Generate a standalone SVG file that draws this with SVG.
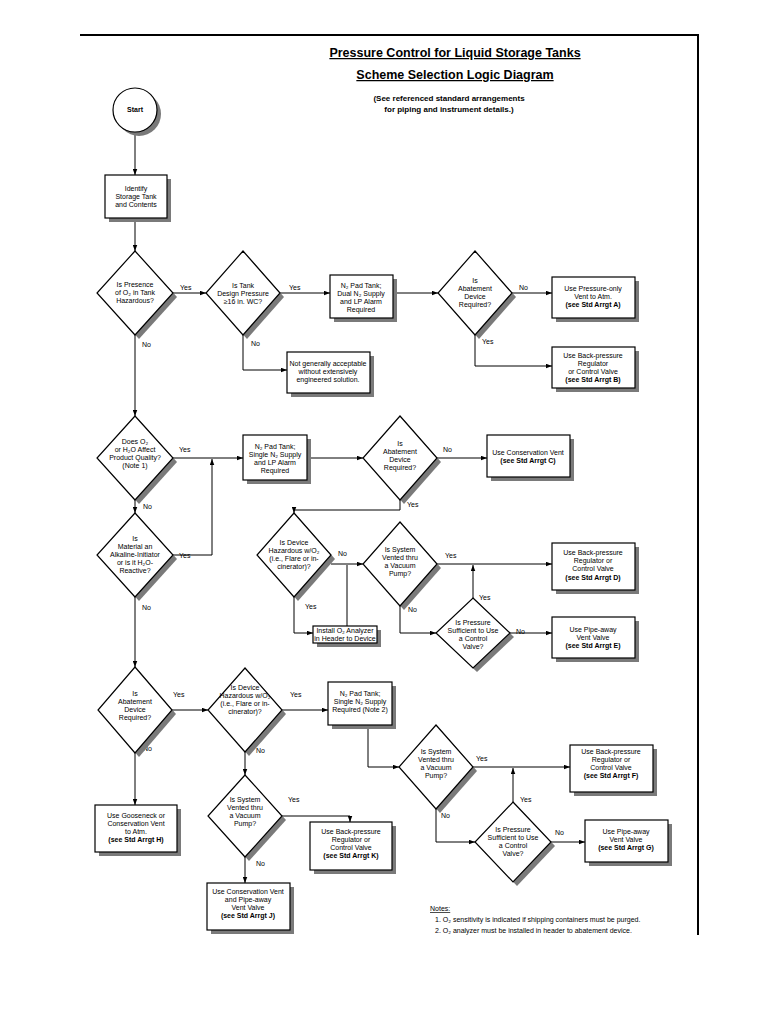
<svg xmlns="http://www.w3.org/2000/svg" width="768" height="1024" viewBox="0 0 768 1024">
<style>
.b{fill:#fff;stroke:#000;stroke-width:1.2}
.s{fill:#7a7a7a}
text{font-family:"Liberation Sans",Arial,sans-serif;font-size:7px;fill:#000}
.t{text-anchor:middle}
.bd{font-weight:bold}
.h{font-size:12.5px;font-weight:bold;text-decoration:underline}
.c{fill:none;stroke:#000;stroke-width:1}
</style>
<defs><marker id="a" viewBox="0 0 8 6" refX="8" refY="3" markerWidth="6" markerHeight="5" orient="auto"><path d="M0,0L8,3L0,6z" fill="#000"/></marker></defs>
<rect width="768" height="1024" fill="#fff"/>
<path d="M80,35H698V935" fill="none" stroke="#000" stroke-width="2"/>
<g id="title">
<text class="t h" x="455" y="57">Pressure Control for Liquid Storage Tanks</text>
<text class="t h" x="455" y="79">Scheme Selection Logic Diagram</text>
<text class="t bd" x="449" y="101" style="font-size:8px">(See referenced standard arrangements</text>
<text class="t bd" x="449" y="112" style="font-size:8px">for piping and instrument details.)</text>
</g>
<g id="connectors" class="c">
<path d="M135,132V175" marker-end="url(#a)"/>
<path d="M135,218V251" marker-end="url(#a)"/>
<path d="M173,293H206" marker-end="url(#a)"/>
<path d="M280,293H330" marker-end="url(#a)"/>
<path d="M393,293H438" marker-end="url(#a)"/>
<path d="M512,293H552" marker-end="url(#a)"/>
<path d="M475,335V366H552" marker-end="url(#a)"/>
<path d="M243,335V370H287" marker-end="url(#a)"/>
<path d="M135,335V416" marker-end="url(#a)"/>
<path d="M173,458H243" marker-end="url(#a)"/>
<path d="M173,555H212V459" marker-end="url(#a)"/>
<path d="M135,500V513" marker-end="url(#a)"/>
<path d="M307,458H363" marker-end="url(#a)"/>
<path d="M437,458H487" marker-end="url(#a)"/>
<path d="M400,500V510H294V513" marker-end="url(#a)"/>
<path d="M331,564H363" marker-end="url(#a)"/>
<path d="M347,626V565"/>
<path d="M294,597V633H313" marker-end="url(#a)"/>
<path d="M437,564H552" marker-end="url(#a)"/>
<path d="M473,598V565" marker-end="url(#a)"/>
<path d="M400,606V633H436" marker-end="url(#a)"/>
<path d="M510,633H552" marker-end="url(#a)"/>
<path d="M135,597V667" marker-end="url(#a)"/>
<path d="M172,710H208" marker-end="url(#a)"/>
<path d="M282,710H328" marker-end="url(#a)"/>
<path d="M135,752V805" marker-end="url(#a)"/>
<path d="M245,752V775" marker-end="url(#a)"/>
<path d="M282,816H350V822" marker-end="url(#a)"/>
<path d="M245,857V883" marker-end="url(#a)"/>
<path d="M368,725V767H399" marker-end="url(#a)"/>
<path d="M473,767H570" marker-end="url(#a)"/>
<path d="M436,809V842H475" marker-end="url(#a)"/>
<path d="M513,802V768" marker-end="url(#a)"/>
<path d="M551,842H585" marker-end="url(#a)"/>
</g>
<g id="labels">
<text x="180" y="290">Yes</text><text x="289" y="290">Yes</text><text x="519" y="290">No</text>
<text x="482" y="344">Yes</text><text x="251" y="346">No</text><text x="142" y="347">No</text>
<text x="179" y="452">Yes</text><text x="443" y="452">No</text><text x="407" y="507">Yes</text>
<text x="143" y="509">No</text><text x="179" y="558">Yes</text>
<text x="338" y="556">No</text><text x="445" y="558">Yes</text><text x="305" y="609">Yes</text>
<text x="408" y="612">No</text><text x="479" y="600">Yes</text><text x="516" y="634">No</text>
<text x="142" y="610">No</text>
<text x="173" y="697">Yes</text><text x="290" y="697">Yes</text><text x="143" y="751">No</text>
<text x="256" y="753">No</text><text x="288" y="802">Yes</text><text x="256" y="866">No</text>
<text x="476" y="761">Yes</text><text x="520" y="802">Yes</text><text x="441" y="818">No</text><text x="555" y="835">No</text>
</g>
<g id="start"><circle class="s" cx="139" cy="114" r="22"/><circle class="b" cx="135" cy="110" r="22"/><text class="t bd" x="135" y="112">Start</text></g>
<g id="identify"><rect class="s" x="109" y="179" width="62" height="43"/><rect class="b" x="105" y="175" width="62" height="43"/>
<text class="t" x="136" y="191">Identify</text><text class="t" x="136" y="199">Storage Tank</text><text class="t" x="136" y="207">and Contents</text></g>
<g id="d1"><polygon class="s" points="139,255 177,297 139,339 101,297"/><polygon class="b" points="135,251 173,293 135,335 97,293"/>
<text class="t" x="135" y="287">Is Presence</text><text class="t" x="135" y="295">of O₂ in Tank</text><text class="t" x="135" y="303">Hazardous?</text></g>
<g id="d2"><polygon class="s" points="247,255 284,297 247,339 210,297"/><polygon class="b" points="243,251 280,293 243,335 206,293"/>
<text class="t" x="243" y="288">Is Tank</text><text class="t" x="243" y="296">Design Pressure</text><text class="t" x="243" y="304">≥16 in. WC?</text></g>
<g id="n2dual"><rect class="s" x="334" y="279" width="63" height="43"/><rect class="b" x="330" y="275" width="63" height="43"/>
<text class="t" x="361" y="288">N₂ Pad Tank;</text><text class="t" x="361" y="296">Dual N₂ Supply</text><text class="t" x="361" y="304">and LP Alarm</text><text class="t" x="361" y="312">Required</text></g>
<g id="d3"><polygon class="s" points="479,255 516,297 479,339 442,297"/><polygon class="b" points="475,251 512,293 475,335 438,293"/>
<text class="t" x="475" y="283">Is</text><text class="t" x="475" y="291">Abatement</text><text class="t" x="475" y="299">Device</text><text class="t" x="475" y="307">Required?</text></g>
<g id="boxA"><rect class="s" x="556" y="281" width="83" height="41"/><rect class="b" x="552" y="277" width="83" height="41"/>
<text class="t" x="593" y="291">Use Pressure-only</text><text class="t" x="593" y="299">Vent to Atm.</text><text class="t bd" x="593" y="307">(see Std Arrgt A)</text></g>
<g id="boxB"><rect class="s" x="556" y="351" width="83" height="41"/><rect class="b" x="552" y="347" width="83" height="41"/>
<text class="t" x="593" y="358">Use  Back-pressure</text><text class="t" x="593" y="366">Regulator</text><text class="t" x="593" y="374">or Control Valve</text><text class="t bd" x="593" y="382">(see Std Arrgt B)</text></g>
<g id="notgen"><rect class="s" x="291" y="356" width="83" height="41"/><rect class="b" x="287" y="352" width="83" height="41"/>
<text class="t" x="328" y="366">Not generally acceptable</text><text class="t" x="328" y="374">without extensively</text><text class="t" x="328" y="382">engineered solution.</text></g>
<g id="d4"><polygon class="s" points="139,420 177,462 139,504 101,462"/><polygon class="b" points="135,416 173,458 135,500 97,458"/>
<text class="t" x="135" y="444">Does O₂</text><text class="t" x="135" y="452">or H₂O Affect</text><text class="t" x="135" y="460">Product Quality?</text><text class="t" x="135" y="468">(Note 1)</text></g>
<g id="d5"><polygon class="s" points="139,517 177,559 139,601 101,559"/><polygon class="b" points="135,513 173,555 135,597 97,555"/>
<text class="t" x="135" y="541">Is</text><text class="t" x="135" y="549">Material an</text><text class="t" x="135" y="557">Alkaline-Initiator</text><text class="t" x="135" y="565">or is it H₂O-</text><text class="t" x="135" y="573">Reactive?</text></g>
<g id="n2single"><rect class="s" x="247" y="439" width="64" height="45"/><rect class="b" x="243" y="435" width="64" height="45"/>
<text class="t" x="275" y="449">N₂ Pad Tank;</text><text class="t" x="275" y="457">Single N₂ Supply</text><text class="t" x="275" y="465">and LP Alarm</text><text class="t" x="275" y="473">Required</text></g>
<g id="d6"><polygon class="s" points="404,420 441,462 404,504 367,462"/><polygon class="b" points="400,416 437,458 400,500 363,458"/>
<text class="t" x="400" y="446">Is</text><text class="t" x="400" y="454">Abatement</text><text class="t" x="400" y="462">Device</text><text class="t" x="400" y="470">Required?</text></g>
<g id="boxC"><rect class="s" x="491" y="439" width="83" height="42"/><rect class="b" x="487" y="435" width="83" height="42"/>
<text class="t" x="528" y="455">Use Conservation Vent</text><text class="t bd" x="528" y="463">(see Std Arrgt C)</text></g>
<g id="d7"><polygon class="s" points="298,517 335,559 298,601 261,559"/><polygon class="b" points="294,513 331,555 294,597 257,555"/>
<text class="t" x="294" y="545">Is Device</text><text class="t" x="294" y="553">Hazardous w/O₂</text><text class="t" x="294" y="561">(i.e., Flare or in-</text><text class="t" x="294" y="569">cinerator)?</text></g>
<g id="install"><rect class="s" x="317" y="630" width="64" height="17"/><rect class="b" x="313" y="626" width="64" height="17"/>
<text class="t" x="345" y="633">Install O₂ Analyzer</text><text class="t" x="345" y="641">in Header to Device</text></g>
<g id="d8"><polygon class="s" points="404,526 441,568 404,610 367,568"/><polygon class="b" points="400,522 437,564 400,606 363,564"/>
<text class="t" x="400" y="552">Is System</text><text class="t" x="400" y="560">Vented thru</text><text class="t" x="400" y="568">a Vacuum</text><text class="t" x="400" y="576">Pump?</text></g>
<g id="boxD"><rect class="s" x="556" y="547" width="83" height="47"/><rect class="b" x="552" y="543" width="83" height="47"/>
<text class="t" x="593" y="555">Use Back-pressure</text><text class="t" x="593" y="563">Regulator or</text><text class="t" x="593" y="571">Control Valve</text><text class="t bd" x="593" y="580">(see Std Arrgt D)</text></g>
<g id="d9"><polygon class="s" points="477,602 514,637 477,672 440,637"/><polygon class="b" points="473,598 510,633 473,668 436,633"/>
<text class="t" x="473" y="625">Is Pressure</text><text class="t" x="473" y="633">Sufficient to Use</text><text class="t" x="473" y="641">a Control</text><text class="t" x="473" y="649">Valve?</text></g>
<g id="boxE"><rect class="s" x="556" y="621" width="83" height="41"/><rect class="b" x="552" y="617" width="83" height="41"/>
<text class="t" x="593" y="632">Use Pipe-away</text><text class="t" x="593" y="640">Vent Valve</text><text class="t bd" x="593" y="648">(see Std Arrgt E)</text></g>
<g id="d10"><polygon class="s" points="139,671 176,714 139,757 102,714"/><polygon class="b" points="135,667 172,710 135,753 98,710"/>
<text class="t" x="135" y="696">Is</text><text class="t" x="135" y="704">Abatement</text><text class="t" x="135" y="712">Device</text><text class="t" x="135" y="720">Required?</text></g>
<g id="d11"><polygon class="s" points="249,672 286,714 249,756 212,714"/><polygon class="b" points="245,668 282,710 245,752 208,710"/>
<text class="t" x="245" y="690">Is Device</text><text class="t" x="245" y="698">Hazardous w/O₂</text><text class="t" x="245" y="706">(i.e., Flare or in-</text><text class="t" x="245" y="714">cinerator)?</text></g>
<g id="n2note2"><rect class="s" x="332" y="686" width="64" height="43"/><rect class="b" x="328" y="682" width="64" height="43"/>
<text class="t" x="360" y="696">N₂ Pad Tank;</text><text class="t" x="360" y="704">Single  N₂ Supply</text><text class="t" x="360" y="712">Required (Note 2)</text></g>
<g id="boxH"><rect class="s" x="99" y="809" width="82" height="47"/><rect class="b" x="95" y="805" width="82" height="47"/>
<text class="t" x="136" y="818">Use Gooseneck or</text><text class="t" x="136" y="826">Conservation Vent</text><text class="t" x="136" y="834">to Atm.</text><text class="t bd" x="136" y="842">(see Std Arrgt H)</text></g>
<g id="d12"><polygon class="s" points="249,779 286,820 249,861 212,820"/><polygon class="b" points="245,775 282,816 245,857 208,816"/>
<text class="t" x="245" y="802">Is System</text><text class="t" x="245" y="810">Vented thru</text><text class="t" x="245" y="818">a Vacuum</text><text class="t" x="245" y="826">Pump?</text></g>
<g id="boxK"><rect class="s" x="314" y="826" width="82" height="48"/><rect class="b" x="310" y="822" width="82" height="48"/>
<text class="t" x="351" y="834">Use Back-pressure</text><text class="t" x="351" y="842">Regulator or</text><text class="t" x="351" y="850">Control Valve</text><text class="t bd" x="351" y="858">(see Std Arrgt K)</text></g>
<g id="boxJ"><rect class="s" x="211" y="887" width="83" height="47"/><rect class="b" x="207" y="883" width="83" height="47"/>
<text class="t" x="248" y="894">Use Conservation Vent</text><text class="t" x="248" y="902">and Pipe-away</text><text class="t" x="248" y="910">Vent Valve</text><text class="t bd" x="248" y="918">(see Std Arrgt J)</text></g>
<g id="d13"><polygon class="s" points="440,729 477,771 440,813 403,771"/><polygon class="b" points="436,725 473,767 436,809 399,767"/>
<text class="t" x="436" y="754">Is System</text><text class="t" x="436" y="762">Vented thru</text><text class="t" x="436" y="770">a Vacuum</text><text class="t" x="436" y="778">Pump?</text></g>
<g id="boxF"><rect class="s" x="574" y="749" width="83" height="47"/><rect class="b" x="570" y="745" width="83" height="47"/>
<text class="t" x="611" y="754">Use Back-pressure</text><text class="t" x="611" y="762">Regulator or</text><text class="t" x="611" y="770">Control Valve</text><text class="t bd" x="611" y="778">(see Std Arrgt F)</text></g>
<g id="d14"><polygon class="s" points="517,806 555,846 517,886 479,846"/><polygon class="b" points="513,802 551,842 513,882 475,842"/>
<text class="t" x="513" y="832">Is Pressure</text><text class="t" x="513" y="840">Sufficient to Use</text><text class="t" x="513" y="848">a Control</text><text class="t" x="513" y="856">Valve?</text></g>
<g id="boxG"><rect class="s" x="589" y="824" width="83" height="42"/><rect class="b" x="585" y="820" width="83" height="42"/>
<text class="t" x="626" y="834">Use Pipe-away</text><text class="t" x="626" y="842">Vent Valve</text><text class="t bd" x="626" y="850">(see Std Arrgt G)</text></g>
<g id="notes">
<text x="430" y="911" text-decoration="underline">Notes:</text>
<text x="435" y="922">1.  O₂ sensitivity is indicated if shipping containers must be purged.</text>
<text x="435" y="933">2.  O₂ analyzer must be installed in header to abatement device.</text>
</g>
</svg>
